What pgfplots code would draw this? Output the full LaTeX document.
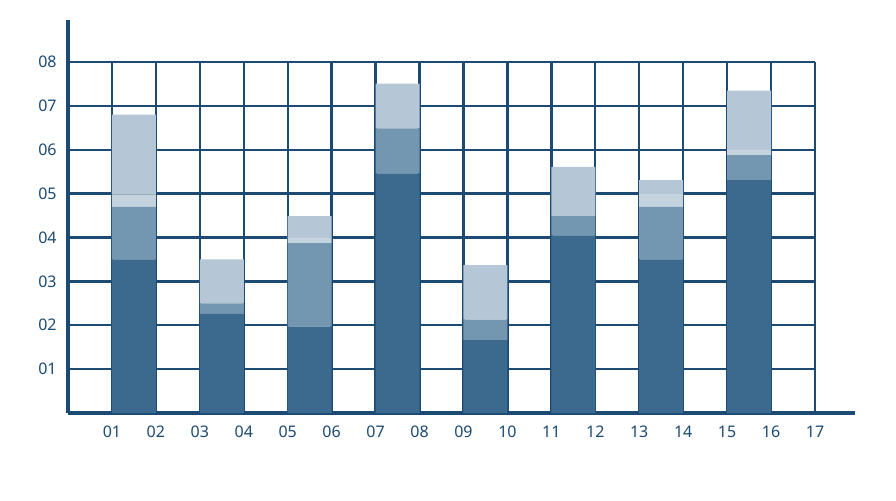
\documentclass[border=0pt]{standalone}
\usepackage{pgfplots}
\pgfplotsset{compat=1.18}
\usepackage{pgfplotstable}
\usepackage{fontspec}
\setmainfont{Noto Sans}
\definecolor{navy}{HTML}{1C4A72}
\definecolor{cdark}{HTML}{3B6A8E}
\definecolor{cmed}{HTML}{7497B1}
\definecolor{clight}{HTML}{B5C7D6}
\definecolor{cpale}{HTML}{C5D3DF}

\pgfplotstableread{
x dark med pale light
1.5 3.50 1.20 0.28 1.82
3.5 2.26 0.24 0.00 1.00
5.5 1.97 1.90 0.12 0.50
7.5 5.46 1.03 0.00 1.02
9.5 1.66 0.47 0.00 1.24
11.5 4.05 0.44 0.00 1.12
13.5 3.50 1.20 0.29 0.32
15.5 5.31 0.57 0.12 1.35
}\data

\begin{document}
\begin{tikzpicture}
\path[use as bounding box] (-34pt,-43.5pt) rectangle (414pt,206.5pt);
\begin{axis}[
  at={(0,0)}, anchor=south west,
  scale only axis,
  width=393.5pt, height=196.5pt,
  xmin=0, xmax=17.91, ymin=0, ymax=8.957,
  enlargelimits=false,
  axis lines=left,
  axis line style={-, line width=2pt, navy},
  ybar stacked, bar width=1,
  xtick={1,...,17},
  xticklabels={01,02,03,04,05,06,07,08,09,10,11,12,13,14,15,16,17},
  ytick={1,...,8},
  yticklabels={01,02,03,04,05,06,07,08},
  major tick length=0pt,
  tick style={draw=none},
  ticklabel style={font=\fontsize{8}{9.5}\selectfont, text=navy, inner sep=0pt},
  xticklabel style={anchor=north, yshift=-6.3pt},
  yticklabel style={anchor=east, xshift=-5.5pt},
  clip=false,
]
\addplot[fill=cdark, draw=none] table[x=x, y=dark] {\data};
\addplot[fill=cmed, draw=none] table[x=x, y=med] {\data};
\addplot[fill=cpale, draw=none] table[x=x, y=pale] {\data};
\addplot[fill=clight, draw=none] table[x=x, y=light] {\data};
\pgfplotsinvokeforeach{1,...,17}{
  \draw[navy, line width=1.2pt] (axis cs:#1,0) -- (axis cs:#1,8);
}
\pgfplotsinvokeforeach{1,...,8}{
  \draw[navy, line width=1.2pt] (axis cs:0,#1) -- (axis cs:17,#1);
}
\end{axis}
\end{tikzpicture}
\end{document}
